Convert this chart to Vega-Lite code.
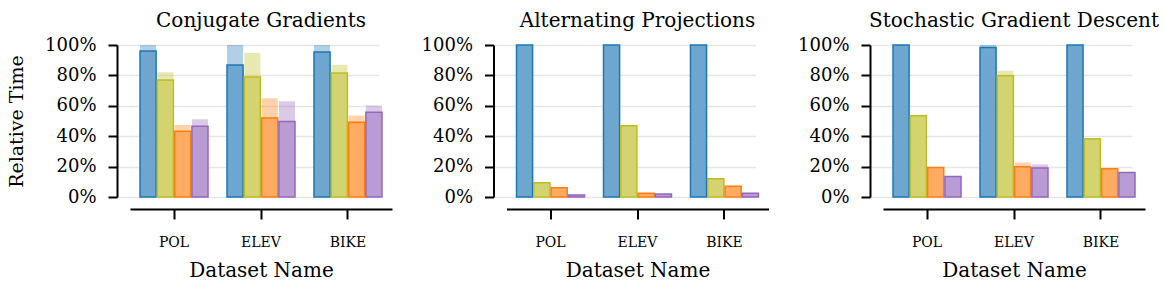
{
  "$schema": "https://vega.github.io/schema/vega-lite/v6.json",
  "background": "white",
  "padding": {"left": 7, "top": 11, "right": 0, "bottom": 0},
  "spacing": 28.5,
  "datasets": {
    "bars": [
      {"method": "Conjugate Gradients", "dataset": "POL", "variant": "A", "kind": "full", "value": 100},
      {"method": "Conjugate Gradients", "dataset": "POL", "variant": "B", "kind": "full", "value": 82},
      {"method": "Conjugate Gradients", "dataset": "POL", "variant": "C", "kind": "full", "value": 47.3},
      {"method": "Conjugate Gradients", "dataset": "POL", "variant": "D", "kind": "full", "value": 51.2},
      {"method": "Conjugate Gradients", "dataset": "ELEV", "variant": "A", "kind": "full", "value": 100},
      {"method": "Conjugate Gradients", "dataset": "ELEV", "variant": "B", "kind": "full", "value": 94.7},
      {"method": "Conjugate Gradients", "dataset": "ELEV", "variant": "C", "kind": "full", "value": 65},
      {"method": "Conjugate Gradients", "dataset": "ELEV", "variant": "D", "kind": "full", "value": 63},
      {"method": "Conjugate Gradients", "dataset": "BIKE", "variant": "A", "kind": "full", "value": 100},
      {"method": "Conjugate Gradients", "dataset": "BIKE", "variant": "B", "kind": "full", "value": 87},
      {"method": "Conjugate Gradients", "dataset": "BIKE", "variant": "C", "kind": "full", "value": 53.6},
      {"method": "Conjugate Gradients", "dataset": "BIKE", "variant": "D", "kind": "full", "value": 60.2},
      {"method": "Conjugate Gradients", "dataset": "POL", "variant": "A", "kind": "part", "value": 96},
      {"method": "Conjugate Gradients", "dataset": "POL", "variant": "B", "kind": "part", "value": 77},
      {"method": "Conjugate Gradients", "dataset": "POL", "variant": "C", "kind": "part", "value": 43.3},
      {"method": "Conjugate Gradients", "dataset": "POL", "variant": "D", "kind": "part", "value": 46.6},
      {"method": "Conjugate Gradients", "dataset": "ELEV", "variant": "A", "kind": "part", "value": 86.8},
      {"method": "Conjugate Gradients", "dataset": "ELEV", "variant": "B", "kind": "part", "value": 78.9},
      {"method": "Conjugate Gradients", "dataset": "ELEV", "variant": "C", "kind": "part", "value": 51.9},
      {"method": "Conjugate Gradients", "dataset": "ELEV", "variant": "D", "kind": "part", "value": 49.7},
      {"method": "Conjugate Gradients", "dataset": "BIKE", "variant": "A", "kind": "part", "value": 95.4},
      {"method": "Conjugate Gradients", "dataset": "BIKE", "variant": "B", "kind": "part", "value": 81.5},
      {"method": "Conjugate Gradients", "dataset": "BIKE", "variant": "C", "kind": "part", "value": 49.2},
      {"method": "Conjugate Gradients", "dataset": "BIKE", "variant": "D", "kind": "part", "value": 55.8},
      {"method": "Alternating Projections", "dataset": "POL", "variant": "A", "kind": "part", "value": 100},
      {"method": "Alternating Projections", "dataset": "POL", "variant": "B", "kind": "part", "value": 9.4},
      {"method": "Alternating Projections", "dataset": "POL", "variant": "C", "kind": "part", "value": 6.1},
      {"method": "Alternating Projections", "dataset": "POL", "variant": "D", "kind": "part", "value": 1.3},
      {"method": "Alternating Projections", "dataset": "ELEV", "variant": "A", "kind": "part", "value": 100},
      {"method": "Alternating Projections", "dataset": "ELEV", "variant": "B", "kind": "part", "value": 46.9},
      {"method": "Alternating Projections", "dataset": "ELEV", "variant": "C", "kind": "part", "value": 2.4},
      {"method": "Alternating Projections", "dataset": "ELEV", "variant": "D", "kind": "part", "value": 2.0},
      {"method": "Alternating Projections", "dataset": "BIKE", "variant": "A", "kind": "part", "value": 100},
      {"method": "Alternating Projections", "dataset": "BIKE", "variant": "B", "kind": "part", "value": 12},
      {"method": "Alternating Projections", "dataset": "BIKE", "variant": "C", "kind": "part", "value": 7},
      {"method": "Alternating Projections", "dataset": "BIKE", "variant": "D", "kind": "part", "value": 2.4},
      {"method": "Stochastic Gradient Descent", "dataset": "ELEV", "variant": "A", "kind": "full", "value": 100},
      {"method": "Stochastic Gradient Descent", "dataset": "ELEV", "variant": "B", "kind": "full", "value": 83},
      {"method": "Stochastic Gradient Descent", "dataset": "ELEV", "variant": "C", "kind": "full", "value": 22.7},
      {"method": "Stochastic Gradient Descent", "dataset": "ELEV", "variant": "D", "kind": "full", "value": 21.4},
      {"method": "Stochastic Gradient Descent", "dataset": "POL", "variant": "A", "kind": "part", "value": 100},
      {"method": "Stochastic Gradient Descent", "dataset": "POL", "variant": "B", "kind": "part", "value": 53.5},
      {"method": "Stochastic Gradient Descent", "dataset": "POL", "variant": "C", "kind": "part", "value": 19.4},
      {"method": "Stochastic Gradient Descent", "dataset": "POL", "variant": "D", "kind": "part", "value": 13.5},
      {"method": "Stochastic Gradient Descent", "dataset": "ELEV", "variant": "A", "kind": "part", "value": 98.3},
      {"method": "Stochastic Gradient Descent", "dataset": "ELEV", "variant": "B", "kind": "part", "value": 79.7},
      {"method": "Stochastic Gradient Descent", "dataset": "ELEV", "variant": "C", "kind": "part", "value": 19.9},
      {"method": "Stochastic Gradient Descent", "dataset": "ELEV", "variant": "D", "kind": "part", "value": 19},
      {"method": "Stochastic Gradient Descent", "dataset": "BIKE", "variant": "A", "kind": "part", "value": 100},
      {"method": "Stochastic Gradient Descent", "dataset": "BIKE", "variant": "B", "kind": "part", "value": 38.4},
      {"method": "Stochastic Gradient Descent", "dataset": "BIKE", "variant": "C", "kind": "part", "value": 18.6},
      {"method": "Stochastic Gradient Descent", "dataset": "BIKE", "variant": "D", "kind": "part", "value": 16.2}
    ]
  },
  "hconcat": [
    {
      "width": 262, "height": 152,
      "title": "Conjugate Gradients",
      "data": {"name": "bars"},
      "transform": [{"filter": "datum.method === 'Conjugate Gradients'"}],
      "encoding": {
        "x": {"field": "dataset", "type": "nominal", "sort": ["POL", "ELEV", "BIKE"], "scale": {"paddingInner": 0.218, "paddingOuter": 0.115}, "title": "Dataset Name"},
        "xOffset": {"field": "variant", "type": "nominal", "sort": ["A", "B", "C", "D"], "scale": {"paddingInner": 0.07, "paddingOuter": 0}},
        "y": {"field": "value", "type": "quantitative", "scale": {"domain": [0, 100], "nice": false}, "title": "Relative Time", "axis": {"values": [0, 20, 40, 60, 80, 100], "labelExpr": "datum.value + '%'"}}
      },
      "layer": [
        {"transform": [{"filter": "datum.kind === 'full'"}], "mark": {"type": "bar", "opacity": 0.35}, "encoding": {"color": {"field": "variant", "type": "nominal", "scale": {"domain": ["A", "B", "C", "D"], "range": ["#1f77b4", "#bcbd22", "#ff7f0e", "#9467bd"]}, "legend": null}}},
        {"transform": [{"filter": "datum.kind === 'part'"}], "mark": {"type": "bar", "strokeWidth": 1.5}, "encoding": {"fill": {"field": "variant", "type": "nominal", "scale": {"domain": ["A", "B", "C", "D"], "range": ["#6da6ce", "#d3d46f", "#ffac62", "#b99cd4"]}, "legend": null}, "stroke": {"field": "variant", "type": "nominal", "scale": {"domain": ["A", "B", "C", "D"], "range": ["#1f77b4", "#bcbd22", "#ff7f0e", "#9467bd"]}, "legend": null}}}
      ]
    },
    {
      "width": 262, "height": 152,
      "title": "Alternating Projections",
      "data": {"name": "bars"},
      "transform": [{"filter": "datum.method === 'Alternating Projections'"}],
      "encoding": {
        "x": {"field": "dataset", "type": "nominal", "sort": ["POL", "ELEV", "BIKE"], "scale": {"paddingInner": 0.218, "paddingOuter": 0.115}, "title": "Dataset Name"},
        "xOffset": {"field": "variant", "type": "nominal", "sort": ["A", "B", "C", "D"], "scale": {"paddingInner": 0.07, "paddingOuter": 0}},
        "y": {"field": "value", "type": "quantitative", "scale": {"domain": [0, 100], "nice": false}, "title": null, "axis": {"values": [0, 20, 40, 60, 80, 100], "labelExpr": "datum.value + '%'"}}
      },
      "layer": [
        {"transform": [{"filter": "datum.kind === 'full'"}], "mark": {"type": "bar", "opacity": 0.35}, "encoding": {"color": {"field": "variant", "type": "nominal", "scale": {"domain": ["A", "B", "C", "D"], "range": ["#1f77b4", "#bcbd22", "#ff7f0e", "#9467bd"]}, "legend": null}}},
        {"transform": [{"filter": "datum.kind === 'part'"}], "mark": {"type": "bar", "strokeWidth": 1.5}, "encoding": {"fill": {"field": "variant", "type": "nominal", "scale": {"domain": ["A", "B", "C", "D"], "range": ["#6da6ce", "#d3d46f", "#ffac62", "#b99cd4"]}, "legend": null}, "stroke": {"field": "variant", "type": "nominal", "scale": {"domain": ["A", "B", "C", "D"], "range": ["#1f77b4", "#bcbd22", "#ff7f0e", "#9467bd"]}, "legend": null}}}
      ]
    },
    {
      "width": 262, "height": 152,
      "title": "Stochastic Gradient Descent",
      "data": {"name": "bars"},
      "transform": [{"filter": "datum.method === 'Stochastic Gradient Descent'"}],
      "encoding": {
        "x": {"field": "dataset", "type": "nominal", "sort": ["POL", "ELEV", "BIKE"], "scale": {"paddingInner": 0.218, "paddingOuter": 0.115}, "title": "Dataset Name"},
        "xOffset": {"field": "variant", "type": "nominal", "sort": ["A", "B", "C", "D"], "scale": {"paddingInner": 0.07, "paddingOuter": 0}},
        "y": {"field": "value", "type": "quantitative", "scale": {"domain": [0, 100], "nice": false}, "title": null, "axis": {"values": [0, 20, 40, 60, 80, 100], "labelExpr": "datum.value + '%'"}}
      },
      "layer": [
        {"transform": [{"filter": "datum.kind === 'full'"}], "mark": {"type": "bar", "opacity": 0.35}, "encoding": {"color": {"field": "variant", "type": "nominal", "scale": {"domain": ["A", "B", "C", "D"], "range": ["#1f77b4", "#bcbd22", "#ff7f0e", "#9467bd"]}, "legend": null}}},
        {"transform": [{"filter": "datum.kind === 'part'"}], "mark": {"type": "bar", "strokeWidth": 1.5}, "encoding": {"fill": {"field": "variant", "type": "nominal", "scale": {"domain": ["A", "B", "C", "D"], "range": ["#6da6ce", "#d3d46f", "#ffac62", "#b99cd4"]}, "legend": null}, "stroke": {"field": "variant", "type": "nominal", "scale": {"domain": ["A", "B", "C", "D"], "range": ["#1f77b4", "#bcbd22", "#ff7f0e", "#9467bd"]}, "legend": null}}}
      ]
    }
  ],
  "config": {
    "view": {"stroke": null},
    "font": "DejaVu Serif",
    "title": {"fontSize": 20, "fontWeight": "normal", "font": "DejaVu Serif", "color": "#000", "offset": 5},
    "axis": {"domainColor": "#000", "domainWidth": 2, "tickColor": "#000", "tickWidth": 2, "labelColor": "#000", "titleColor": "#000", "titleFontWeight": "normal", "labelFont": "DejaVu Serif", "titleFont": "DejaVu Serif", "labelOverlap": false},
    "axisY": {"offset": 13, "tickSize": 9, "labelFontSize": 18, "titleFontSize": 19, "labelPadding": 12, "titlePadding": 18, "grid": true, "gridColor": "#e6e6e6", "gridWidth": 1.5, "domainCap": "butt"},
    "axisX": {"offset": 12, "tickSize": 10, "labelFontSize": 14, "labelAngle": 0, "labelPadding": 16, "titleFontSize": 20, "titlePadding": 11, "grid": false}
  }
}
